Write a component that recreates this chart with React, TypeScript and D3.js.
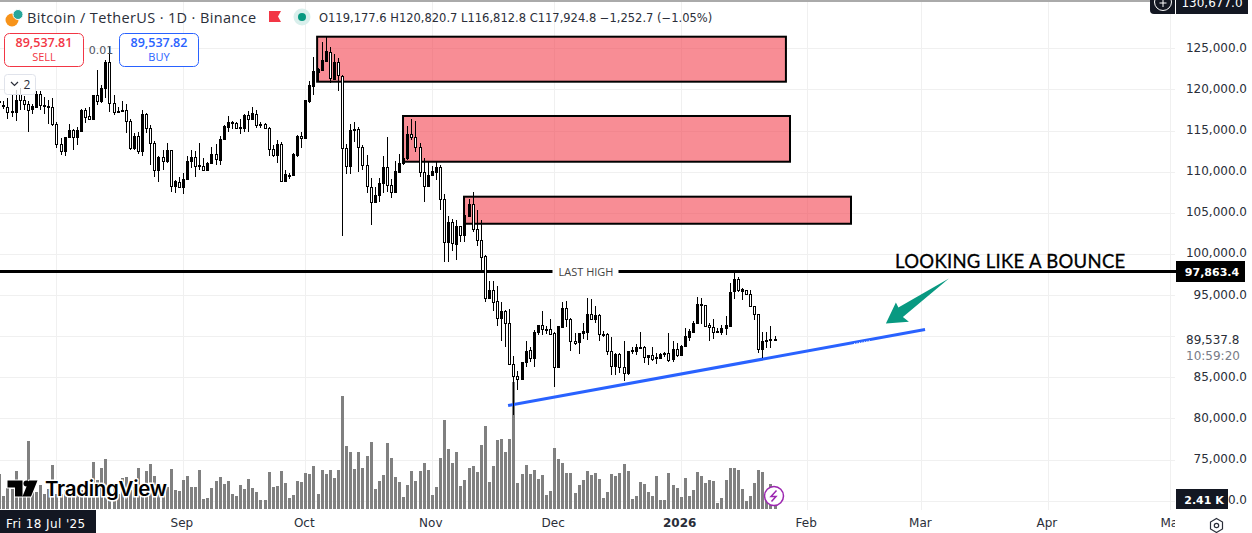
import * as d3 from "d3";

const width = 1252;
const height = 533;

// daily candles, values in thousands of USDT, 18 Jul 2025 -> 24 Jan 2026
const opens = [
  118.3,117.9,117.7,117.1,117.1,119.3,118.6,118.1,117.4,117.7,
  119.3,117.9,117.8,117.7,115.6,113.2,112.4,114.0,114.9,114.0,
  114.8,117.3,116.6,116.3,119.2,118.4,120.0,123.2,118.15,117.2,
  117.3,117.3,116.0,112.7,114.2,112.3,116.8,115.2,113.3,110.0,
  111.6,111.1,112.5,108.1,108.6,108.0,109.0,111.1,111.6,110.6,
  110.5,110.0,110.9,112.0,111.3,113.8,115.3,115.9,115.7,115.3,
  115.2,116.7,116.3,116.9,115.6,115.6,115.1,112.55,111.9,113.2,
  108.75,109.4,109.45,111.9,114.2,113.9,118.4,120.3,122.0,122.2,
  123.35,124.45,121.1,123.15,121.5,112.7,110.55,114.85,115.0,112.9,
  110.6,108.0,106.2,106.95,108.45,110.4,108.25,107.4,109.85,110.85,
  111.5,114.4,114.05,112.8,109.85,108.15,109.4,109.85,110.4,106.5,
  101.35,103.7,101.1,103.2,102.1,104.5,105.9,102.85,101.5,99.6,
  94.45,95.5,94.15,92.05,92.85,91.4,86.45,85.0,84.6,86.7,
  88.2,87.2,90.3,91.2,90.75,90.7,90.2,86.05,91.0,93.25,
  91.9,89.2,89.1,90.2,90.4,92.55,91.9,92.4,90.1,90.1,
  88.05,86.25,87.65,86.05,85.35,88.15,88.1,88.5,88.5,87.3,
  87.6,87.2,87.2,87.75,87.8,87.05,88.3,87.5,88.6,89.8,
  90.4,91.4,93.8,93.65,91.2,90.95,90.35,90.35,90.8,91.1,
  95.3,96.75,95.35,95.4,94.95,93.5,92.5,88.3,89.4,89.5,89.55,
];
const highs = [
  119.0,118.4,118.8,119.2,119.8,120.0,119.0,118.4,118.1,119.6,
  119.6,118.9,118.6,118.8,115.9,113.9,114.1,115.6,115.0,115.3,
  117.4,117.6,117.75,119.2,122.2,120.4,123.4,125.0,119.2,117.7,
  118.4,118.1,116.3,114.6,114.7,117.3,117.0,115.5,113.6,111.7,
  112.5,113.3,112.5,108.8,109.2,109.7,111.7,112.5,112.3,113.3,
  111.5,111.0,112.8,113.2,114.2,115.5,116.6,116.0,115.9,116.3,
  116.85,117.25,117.75,117.35,115.9,115.8,115.3,113.1,113.7,113.4,
  110.1,109.65,112.15,114.3,114.7,118.5,120.9,123.75,122.4,125.6,
  126.25,125.0,124.15,123.6,121.6,113.2,115.6,115.85,115.25,113.1,
  111.9,109.05,108.0,109.05,111.7,114.0,108.9,111.15,112.0,111.7,
  115.4,116.2,116.05,113.3,111.5,111.0,110.5,111.0,110.65,107.15,
  104.45,104.1,104.0,103.2,106.8,106.55,107.35,105.2,104.0,99.7,
  96.6,96.5,95.95,94.05,93.05,93.1,87.4,85.55,86.7,89.2,
  88.5,90.55,91.2,92.95,91.1,91.9,90.3,91.1,93.95,94.15,
  92.0,90.2,90.2,91.4,94.45,94.4,93.45,92.55,90.5,90.2,
  89.8,87.8,87.8,89.2,88.05,88.5,88.9,90.4,88.65,87.6,
  88.5,87.8,87.8,87.9,90.2,89.2,89.0,88.8,90.8,90.7,
  91.7,94.6,94.45,93.65,91.4,91.9,90.8,91.2,92.3,96.35,
  97.6,97.0,95.75,95.5,95.4,93.5,92.5,90.4,90.3,91.1,89.9,
];
const lows = [
  117.8,117.4,116.3,116.5,116.0,117.3,117.3,114.7,116.9,117.7,
  117.3,116.9,115.6,115.4,112.7,111.9,111.75,114.0,112.5,113.1,
  114.7,115.8,116.3,116.3,118.0,118.15,118.8,117.1,116.7,117.1,
  117.1,114.6,112.5,112.5,112.0,111.7,114.5,110.7,109.2,108.6,
  110.0,110.9,107.4,107.3,107.9,107.1,109.0,110.3,109.2,110.0,
  109.9,110.0,110.8,110.7,110.7,113.7,114.7,115.0,115.0,114.4,
  114.7,114.7,116.1,115.1,115.1,115.0,111.75,111.6,110.85,108.6,
  108.6,109.0,109.3,111.6,112.7,113.8,118.2,119.2,120.9,122.1,
  123.2,120.6,121.0,119.6,102.0,109.5,109.5,113.5,109.85,110.05,
  107.3,103.4,106.2,106.1,107.2,107.4,106.6,107.4,109.65,110.7,
  111.3,113.7,112.2,109.15,106.2,108.1,109.35,108.85,105.2,98.9,
  98.9,100.2,99.15,101.35,101.35,104.4,102.5,100.75,97.9,93.95,
  94.45,92.95,91.1,89.2,88.5,86.45,80.3,83.3,84.5,86.15,
  86.7,86.15,90.0,90.0,90.1,90.1,83.7,86.05,90.8,90.95,
  88.0,88.8,87.65,89.5,89.4,91.8,91.4,89.2,89.8,87.5,
  85.15,85.15,85.35,84.35,85.15,87.7,87.6,88.4,86.55,86.3,
  86.8,86.5,87.1,87.3,86.75,86.75,87.3,87.5,88.5,89.2,
  90.4,91.4,91.35,91.1,89.2,89.5,90.3,90.0,90.0,91.1,
  94.4,95.25,94.2,94.95,93.45,91.85,87.8,87.2,88.45,88.45,89.3,
];
const closes = [
  118.4,117.8,117.1,117.2,118.6,118.6,118.1,117.3,117.8,119.3,
  117.9,117.9,117.8,115.6,113.2,112.4,114.0,114.9,114.0,114.9,
  117.3,116.5,116.3,119.2,118.4,120.0,123.2,118.15,117.1,117.2,
  117.3,116.0,112.7,114.2,112.3,116.8,115.2,113.3,110.0,111.6,
  111.1,112.5,108.1,108.7,108.0,109.0,111.1,111.6,110.5,110.6,
  110.0,110.9,112.0,111.35,113.8,115.4,115.9,115.85,115.1,115.3,
  116.7,116.25,117.0,115.5,115.6,115.1,112.55,111.9,113.2,108.75,
  109.55,109.45,112.0,114.2,113.9,118.5,120.4,122.1,122.3,123.4,
  124.5,121.2,123.15,121.6,112.7,110.55,114.9,115.05,112.9,110.7,
  108.1,106.2,107.0,108.45,110.4,108.25,107.4,109.9,110.85,111.5,
  114.4,114.05,112.8,109.85,108.15,109.45,109.95,110.45,106.5,101.35,
  103.7,101.15,103.2,102.1,104.6,105.95,102.85,101.5,99.5,94.5,
  95.5,94.05,92.05,92.85,91.4,86.45,84.95,84.6,86.7,88.1,
  87.2,90.35,91.2,90.7,90.7,90.15,86.05,91.1,93.25,91.9,
  89.2,89.0,90.2,90.5,92.55,91.9,92.4,90.1,90.1,88.05,
  86.25,87.65,86.05,85.35,88.05,88.2,88.5,88.45,87.3,87.6,
  87.05,87.3,87.7,87.8,87.0,88.3,87.5,88.7,89.9,90.5,
  91.4,93.8,93.75,91.1,90.95,90.4,90.5,90.8,91.2,95.25,
  96.75,95.4,95.6,94.95,93.45,92.5,88.3,89.3,89.4,89.55,89.5,
];
// volume in K
const volumes = [
  20.1,7.2,11.8,11.6,21.5,8.7,8.7,38.6,16.3,9.7,
  13.5,8.7,11.6,24.9,8.7,8.7,10.6,10.6,9.7,8.7,
  10.6,9.7,12.5,26.6,16.7,23.2,28.3,10.6,12.5,8.7,
  17.9,18.2,10.6,12.5,23.2,9.7,21.5,25.5,18.6,9.7,
  10.6,12.5,22.6,11.0,10.1,16.3,18.6,12.4,12.4,22.0,
  5.5,6.1,11.8,15.8,18.1,14.1,15.8,8.4,7.2,13.5,
  11.2,16.9,11.8,9.5,4.9,4.9,20.9,12.4,12.9,21.5,
  14.6,6.1,7.8,15.8,15.2,20.3,19.8,24.3,8.4,22.0,
  19.8,22.0,17.5,22.0,64.2,35.7,32.3,22.6,32.3,23.2,
  30.0,38.0,11.2,15.8,19.2,37.4,28.9,18.1,15.2,6.7,
  13.5,21.5,15.8,21.5,26.0,22.0,7.8,12.4,28.9,50.5,
  34.0,26.0,32.3,12.9,16.3,23.2,24.3,20.9,36.3,47.1,
  15.2,24.3,39.1,39.7,32.3,39.7,72.4,14.6,19.8,24.9,
  19.8,22.0,16.9,19.2,7.8,10.1,34.6,28.3,26.0,20.3,
  20.3,8.9,13.5,16.3,21.5,19.2,20.3,16.9,6.1,9.5,
  19.8,18.6,20.3,25.5,21.5,5.5,7.2,15.2,14.1,9.5,
  7.2,18.6,4.9,4.9,20.3,13.5,11.8,6.7,17.5,7.2,
  10.6,20.9,18.6,14.6,16.3,15.8,3.2,6.1,16.3,23.2,
  23.2,22.0,11.2,4.4,7.2,14.6,22.0,20.9,4.9,14.1,2.41,
];

// my readings sit 0.16k low against the price axis
const READ_OFFSET = 0.16;
const candles = d3.range(opens.length).map((i) => ({
  i,
  o: opens[i] + READ_OFFSET,
  h: highs[i] + READ_OFFSET,
  l: lows[i] + READ_OFFSET,
  c: closes[i] + READ_OFFSET,
  v: volumes[i],
}));

const priceTicks = [125, 120, 115, 110, 105, 100, 95, 90, 85, 80, 75, 70];
const hiddenPriceLabels = [90];
const monthTicks = [14, 45, 75, 106, 136, 167, 198, 226, 257, 287];
const monthLabels = ["", "Sep", "Oct", "Nov", "Dec", "2026", "Feb", "Mar", "Apr", "Ma"];

// zones: first day, last day, top and bottom price
const zones = [
  [77.9, 192.8, 126.41, 120.94],
  [98.95, 193.8, 116.77, 111.21],
  [113.9, 208.75, 106.96, 103.67],
];
const lastHigh = 97.8634;
const lastPrice = 89.5378;
const trendFrom = [124.7, 81.57];
const trendTo = [226.9, 90.81];

const x = d3.scaleLinear([0, 190], [-0.7, 774.5]);
const y = d3.scaleLinear([125, 70], [48.3, 500.7]);
const yVol = d3.scaleLinear([0, 72.4], [509, 382]);
const fmt = d3.format(",.1f");
const px = (v: number) => Math.round(v) + 0.5;

const AXIS_FONT = "'DejaVu Sans', sans-serif";
const UI_FONT = "'Open Sans', 'DejaVu Sans', sans-serif";
const TEXT = "#2a2e39";

function Candle({ d }: { d: (typeof candles)[number] }) {
  const cx = px(x(d.i));
  const top = px(y(Math.max(d.o, d.c)));
  const bot = px(y(Math.min(d.o, d.c)));
  const up = d.c >= d.o;
  return (
    <g>
      <line x1={cx} x2={cx} y1={y(d.h)} y2={y(d.l)} stroke="#000" />
      <rect
        x={cx - 1}
        y={top}
        width={2}
        height={Math.max(bot - top, 1)}
        fill={up ? "#000" : "#fff"}
        stroke="#000"
      />
    </g>
  );
}

function Header() {
  return (
    <g fontFamily={UI_FONT}>
      <circle cx={12} cy={20} r={6.5} fill="#f7931a" />
      <circle cx={18} cy={14.5} r={5} fill="#26a69a" stroke="#fff" />
      <text x={27} y={23} fontSize={14.5} letterSpacing={0.36} fill={TEXT}>
        Bitcoin / TetherUS · 1D · Binance
      </text>
      <path d="M269 11H281L278 16.5L281 22H269Z" fill="#f23645" />
      <circle cx={302} cy={17} r={8.5} fill="#d9efec" />
      <circle cx={302} cy={17} r={4} fill="#089981" />
      <text x={319} y={22} fontSize={11.5} fill={TEXT} fontFamily={AXIS_FONT}>
        O119,177.6 H120,820.7 L116,812.8 C117,924.8 −1,252.7 (−1.05%)
      </text>

      <rect x={4.5} y={33.5} width={79} height={33} rx={5} fill="#fff" stroke="#f23645" />
      <text x={44} y={47} fontSize={12.5} fontWeight={600} fill="#f23645" textAnchor="middle">
        89,537.81
      </text>
      <text x={44} y={61} fontSize={11} fill="#f23645" textAnchor="middle">
        SELL
      </text>
      <rect x={119.5} y={33.5} width={79} height={33} rx={5} fill="#fff" stroke="#2962ff" />
      <text x={159} y={47} fontSize={12.5} fontWeight={600} fill="#2962ff" textAnchor="middle">
        89,537.82
      </text>
      <text x={159} y={61} fontSize={11} fill="#2962ff" textAnchor="middle">
        BUY
      </text>
      <text x={101} y={54} fontSize={11} fill="#50535e" textAnchor="middle" fontFamily={AXIS_FONT}>
        0.01
      </text>

      <rect x={4.5} y={74.5} width={31} height={20} rx={3} fill="#fff" fillOpacity={0.8} stroke="#e0e3eb" />
      <path d="M11 82L14.5 85.5L18 82" fill="none" stroke={TEXT} strokeWidth={1.2} />
      <text x={27} y={89} fontSize={12} fill={TEXT} textAnchor="middle">
        2
      </text>
    </g>
  );
}

function Logo() {
  return (
    <g>
      <path
        d="M7.5 480.5H22.5V496.5H15V487.5H7.5Z M37.5 480.5L31 496.5H22.5L29 480.5Z"
        fill="#000"
        stroke="#fff"
        strokeWidth={2}
        paintOrder="stroke"
      />
      <circle cx={26.5} cy={483.5} r={3} fill="#000" />
      <text
        x={45}
        y={495.5}
        fontFamily="Inter, Roboto, sans-serif"
        fontSize={20.5}
        fontWeight={600}
        letterSpacing={-0.3}
        fill="#000"
        stroke="#fff"
        strokeWidth={3}
        paintOrder="stroke"
      >
        TradingView
      </text>
    </g>
  );
}

export default function App() {
  const trend = d3.line()([
    [x(trendFrom[0]), y(trendFrom[1])],
    [x(trendTo[0]), y(trendTo[1])],
  ] as [number, number][])!;
  const highY = y(lastHigh);
  // arrow tip sits just above the trend line, tail near the caption
  const tipX = x(217.3);
  const tipY = y(91.55);
  const arrow = [
    [0, 0],
    [10, -21],
    [12.5, -16],
    [63, -45],
    [17, -6.5],
    [23, -1.7],
  ]
    .map(([dx, dy]) => [tipX + dx, tipY + dy].join(","))
    .join(" ");

  return (
    <svg
      width={width}
      height={height}
      viewBox={`0 0 ${width} ${height}`}
      style={{ position: "absolute", left: 0, top: 0, background: "#fff" }}
    >
      <defs>
        <clipPath id="pane">
          <rect x={0} y={0} width={1175} height={height} />
        </clipPath>
      </defs>

      <g clipPath="url(#pane)" shapeRendering="crispEdges">
        {priceTicks.map((t) => (
          <line key={t} x1={0} x2={1175} y1={px(y(t))} y2={px(y(t))} stroke="#f0f0f0" />
        ))}
        {monthTicks.map((t) => (
          <line key={t} x1={px(x(t))} x2={px(x(t))} y1={0} y2={510} stroke="#f0f0f0" />
        ))}
        {candles.map((d) => (
          <rect key={d.i} x={Math.round(x(d.i)) - 1} y={yVol(d.v)} width={3} height={yVol(0) - yVol(d.v)} fill="#808080" />
        ))}
      </g>
      <line x1={0} x2={1152} y1={1} y2={1} stroke="#aaa" strokeWidth={2} />

      {zones.map(([a, b, hi, lo], i) => (
        <rect
          key={i}
          x={x(a)}
          y={y(hi)}
          width={x(b) - x(a)}
          height={y(lo) - y(hi)}
          fill="#f23645"
          fillOpacity={0.57}
          stroke="#000"
          strokeWidth={2}
        />
      ))}

      <g stroke="#000" strokeWidth={3}>
        <line x1={0} x2={552.5} y1={highY} y2={highY} />
        <line x1={618.5} x2={1176} y1={highY} y2={highY} />
      </g>
      <text x={586} y={highY + 4} fontSize={11} fill="#444" textAnchor="middle" fontFamily={UI_FONT}>
        LAST HIGH
      </text>

      <path d={trend} fill="none" stroke="#2962ff" strokeWidth={3} />
      <line
        x1={x(209.5)}
        x2={x(213.5)}
        y1={y(89.08)}
        y2={y(89.45)}
        stroke="#fff"
        strokeWidth={1}
        strokeDasharray="1 1.5"
      />

      <g shapeRendering="crispEdges">
        {candles.map((d) => (
          <Candle key={d.i} d={d} />
        ))}
      </g>

      <polygon points={arrow} fill="#089981" />
      <text
        x={895}
        y={267.5}
        fontFamily="Lato, sans-serif"
        fontSize={18.5}
        letterSpacing={0.3}
        fill="#000"
        stroke="#000"
        strokeWidth={0.3}
      >
        LOOKING LIKE A BOUNCE
      </text>

      <Header />
      <Logo />

      <circle cx={774} cy={496} r={9.5} fill="#fff" stroke="#9c27b0" strokeWidth={1.5} />
      <path d="M776.5 490.5L771 496.5H776L771.5 501.5" fill="none" stroke="#9c27b0" strokeWidth={1.5} />

      {/* price axis */}
      <g fontFamily={AXIS_FONT} fontSize={12} fill="#2a2e39">
        {priceTicks
          .filter((t) => !hiddenPriceLabels.includes(t))
          .map((t) => (
            <text key={t} x={1247} y={y(t) + 3.5} textAnchor="end">
              {fmt(t * 1000)}
            </text>
          ))}
        <text x={1186} y={344}>
          {fmt(lastPrice * 1000)}
        </text>
        <text x={1186} y={360} fill="#787b86">
          10:59:20
        </text>
      </g>

      <rect x={1176} y={261} width={69} height={21} fill="#000" />
      <text x={1212} y={275.5} fontFamily={AXIS_FONT} fontSize={11} fontWeight={700} fill="#fff" textAnchor="middle">
        {fmt(lastHigh * 1000)}
      </text>

      <rect x={1176} y={489} width={52} height={20} fill="#131722" />
      <text x={1204} y={503.5} fontFamily={AXIS_FONT} fontSize={11} fontWeight={700} fill="#fff" textAnchor="middle">
        2.41 K
      </text>

      <path d="M1150 0H1175V14H1154Q1150 14 1150 10Z" fill="#131722" />
      <circle cx={1163} cy={2} r={8.5} fill="none" stroke="#fff" />
      <path d="M1163 0V7M1159.5 3H1166.5" stroke="#fff" />
      <rect x={1176} y={0} width={72} height={14} fill="#131722" />
      <text x={1212} y={7} fontFamily={AXIS_FONT} fontSize={12} fill="#fff" textAnchor="middle">
        130,677.0
      </text>

      {/* time axis */}
      <g clipPath="url(#pane)" fontFamily={AXIS_FONT} fontSize={12} fill="#2a2e39" textAnchor="middle">
        {monthTicks.map((t, i) =>
          monthLabels[i] ? (
            <text key={t} x={x(t) - 1} y={527} fontWeight={monthLabels[i] === "2026" ? 700 : 400}>
              {monthLabels[i]}
            </text>
          ) : null,
        )}
      </g>
      <rect x={0} y={510} width={96} height={23} fill="#131722" />
      <text x={6} y={528} fontFamily={AXIS_FONT} fontSize={12} letterSpacing={0.4} fill="#fff">
        Fri 18 Jul '25
      </text>

      <path
        d="M1216.5 519.5L1222.5 523V530L1216.5 533.5L1210.5 530V523Z"
        transform="translate(0,-1)"
        fill="none"
        stroke="#2a2e39"
        strokeWidth={1.2}
      />
      <circle cx={1216.5} cy={525.5} r={2.2} fill="none" stroke="#2a2e39" strokeWidth={1.2} />
    </svg>
  );
}
